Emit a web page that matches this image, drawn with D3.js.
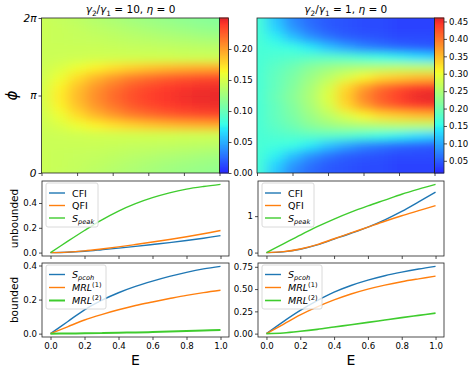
<!DOCTYPE html>
<html>
<head>
<meta charset="utf-8">
<script src="https://cdn.jsdelivr.net/npm/d3@7"></script>
<style>
  body { margin: 0; background: #fff; }
  text { font-family: "DejaVu Sans", sans-serif; fill: #000; }
</style>
</head>
<body>
<svg id="fig" width="474" height="373"></svg>
<script>
// ---- data ----
var energy = [0, 0.1, 0.2, 0.3, 0.4, 0.5, 0.6, 0.7, 0.8, 0.9, 1.0];
// phi grid, in units of pi
var phiSteps = [0, 0.125, 0.25, 0.375, 0.5, 0.625, 0.75, 0.875, 1, 1.125, 1.25, 1.375, 1.5, 1.625, 1.75, 1.875, 2];

// heat map rows, one per phi step (phi = 0 first), columns follow energy
var heatStrong = [
  [0.145, 0.143, 0.141, 0.138, 0.135, 0.132, 0.129, 0.126, 0.123, 0.121, 0.119],
  [0.145, 0.144, 0.142, 0.140, 0.137, 0.134, 0.131, 0.128, 0.126, 0.124, 0.122],
  [0.145, 0.144, 0.143, 0.142, 0.140, 0.138, 0.136, 0.134, 0.132, 0.130, 0.128],
  [0.145, 0.145, 0.145, 0.145, 0.144, 0.143, 0.142, 0.141, 0.140, 0.139, 0.138],
  [0.145, 0.146, 0.147, 0.148, 0.148, 0.148, 0.148, 0.148, 0.147, 0.147, 0.146],
  [0.146, 0.152, 0.160, 0.167, 0.174, 0.180, 0.185, 0.189, 0.192, 0.194, 0.196],
  [0.147, 0.160, 0.175, 0.190, 0.202, 0.212, 0.219, 0.225, 0.229, 0.232, 0.234],
  [0.149, 0.167, 0.186, 0.203, 0.216, 0.227, 0.234, 0.239, 0.242, 0.244, 0.245],
  [0.150, 0.170, 0.190, 0.207, 0.221, 0.232, 0.238, 0.242, 0.245, 0.247, 0.248],
  [0.149, 0.167, 0.186, 0.203, 0.216, 0.227, 0.234, 0.239, 0.242, 0.244, 0.245],
  [0.147, 0.160, 0.175, 0.190, 0.202, 0.212, 0.219, 0.225, 0.229, 0.232, 0.234],
  [0.146, 0.152, 0.160, 0.167, 0.174, 0.180, 0.185, 0.189, 0.192, 0.194, 0.196],
  [0.145, 0.146, 0.147, 0.148, 0.148, 0.148, 0.148, 0.148, 0.147, 0.147, 0.146],
  [0.145, 0.145, 0.145, 0.145, 0.144, 0.143, 0.142, 0.141, 0.140, 0.139, 0.138],
  [0.145, 0.144, 0.143, 0.142, 0.140, 0.138, 0.136, 0.134, 0.132, 0.130, 0.128],
  [0.145, 0.144, 0.142, 0.139, 0.136, 0.133, 0.130, 0.127, 0.124, 0.121, 0.119],
  [0.145, 0.142, 0.139, 0.135, 0.131, 0.127, 0.124, 0.121, 0.118, 0.116, 0.114]
];
var heatEqual = [
  [0.170, 0.120, 0.080, 0.060, 0.050, 0.045, 0.040, 0.040, 0.035, 0.035, 0.035],
  [0.170, 0.130, 0.090, 0.065, 0.050, 0.045, 0.040, 0.040, 0.035, 0.035, 0.035],
  [0.170, 0.150, 0.120, 0.090, 0.070, 0.055, 0.050, 0.045, 0.040, 0.040, 0.040],
  [0.170, 0.165, 0.160, 0.145, 0.120, 0.100, 0.080, 0.070, 0.060, 0.055, 0.050],
  [0.170, 0.175, 0.180, 0.185, 0.185, 0.180, 0.170, 0.160, 0.150, 0.140, 0.130],
  [0.170, 0.185, 0.200, 0.220, 0.235, 0.245, 0.250, 0.255, 0.260, 0.260, 0.260],
  [0.170, 0.190, 0.210, 0.235, 0.260, 0.285, 0.310, 0.330, 0.340, 0.350, 0.355],
  [0.170, 0.190, 0.215, 0.245, 0.280, 0.330, 0.370, 0.405, 0.425, 0.440, 0.445],
  [0.170, 0.195, 0.220, 0.250, 0.290, 0.340, 0.390, 0.420, 0.440, 0.455, 0.460],
  [0.170, 0.190, 0.215, 0.245, 0.280, 0.330, 0.370, 0.405, 0.425, 0.440, 0.445],
  [0.170, 0.190, 0.210, 0.235, 0.260, 0.285, 0.310, 0.330, 0.340, 0.350, 0.355],
  [0.170, 0.185, 0.200, 0.220, 0.235, 0.245, 0.250, 0.255, 0.260, 0.260, 0.260],
  [0.170, 0.175, 0.180, 0.185, 0.185, 0.180, 0.170, 0.160, 0.150, 0.140, 0.130],
  [0.170, 0.165, 0.160, 0.145, 0.120, 0.100, 0.080, 0.070, 0.060, 0.055, 0.050],
  [0.170, 0.150, 0.120, 0.090, 0.070, 0.055, 0.050, 0.045, 0.040, 0.040, 0.040],
  [0.170, 0.130, 0.090, 0.065, 0.050, 0.045, 0.040, 0.040, 0.035, 0.035, 0.035],
  [0.170, 0.120, 0.080, 0.060, 0.050, 0.045, 0.040, 0.040, 0.035, 0.035, 0.035]
];
var cbarStrong = [0, 0.25];
var cbarEqual = [0.015, 0.46];
var cbarTicksStrong = [0, 0.05, 0.10, 0.15, 0.20];
var cbarTicksEqual = [0.05, 0.10, 0.15, 0.20, 0.25, 0.30, 0.35, 0.40, 0.45];
var phiTicks = [0, 1, 2];
var phiTickLabels = ["0", "\u03c0", "2\u03c0"];

// unbounded
var cfiStrong   = [0, 0.003, 0.011, 0.023, 0.036, 0.050, 0.065, 0.080, 0.097, 0.116, 0.137];
var qfiStrong   = [0, 0.004, 0.014, 0.029, 0.046, 0.065, 0.085, 0.106, 0.128, 0.152, 0.178];
var speakStrong = [0, 0.090, 0.178, 0.262, 0.335, 0.395, 0.443, 0.482, 0.512, 0.533, 0.550];
var cfiEqual    = [0, 0.020, 0.090, 0.210, 0.370, 0.530, 0.700, 0.900, 1.130, 1.390, 1.660];
var qfiEqual    = [0, 0.025, 0.100, 0.220, 0.380, 0.540, 0.700, 0.860, 1.010, 1.150, 1.290];
var speakEqual  = [0, 0.240, 0.480, 0.710, 0.920, 1.110, 1.280, 1.440, 1.600, 1.740, 1.870];
// bounded
var spcohStrong = [0, 0.070, 0.140, 0.195, 0.240, 0.277, 0.308, 0.336, 0.360, 0.380, 0.395];
var mrl1Strong  = [0, 0.040, 0.080, 0.112, 0.140, 0.165, 0.186, 0.206, 0.225, 0.241, 0.255];
var mrl2Strong  = [0, 0.001, 0.002, 0.003, 0.005, 0.007, 0.009, 0.012, 0.015, 0.018, 0.021];
var spcohEqual  = [0, 0.135, 0.260, 0.370, 0.465, 0.540, 0.600, 0.650, 0.690, 0.725, 0.755];
var mrl1Equal   = [0, 0.105, 0.210, 0.300, 0.378, 0.445, 0.500, 0.545, 0.583, 0.615, 0.645];
var mrl2Equal   = [0, 0.008, 0.026, 0.048, 0.074, 0.100, 0.126, 0.153, 0.180, 0.205, 0.230];

var xTicks = [0, 0.2, 0.4, 0.6, 0.8, 1.0];

var BLUE = "#1f77b4", ORANGE = "#ff7f0e", GREEN = "#3fcc2e";
var TICK_FS = 8.6;

var svg = d3.select("#fig");
var defs = svg.append("defs");

// jet colormap, trimmed at the ends and washed with white
var jetR = d3.scaleLinear().domain([0, 0.35, 0.66, 0.89, 1]).range([0, 0, 1, 1, 0.5]).clamp(true);
var jetG = d3.scaleLinear().domain([0, 0.125, 0.375, 0.64, 0.91, 1]).range([0, 0, 1, 1, 0, 0]).clamp(true);
var jetB = d3.scaleLinear().domain([0, 0.11, 0.34, 0.65, 1]).range([0.5, 1, 1, 0, 0]).clamp(true);
function makeColor(range) {
  var t = d3.scaleLinear().domain(range).range([0.12, 0.92]).clamp(true);
  var a = 0.84;
  return function (v) {
    var s = t(v);
    return d3.rgb(255 * (1 - a + a * jetR(s)), 255 * (1 - a + a * jetG(s)), 255 * (1 - a + a * jetB(s))).toString();
  };
}

function rich(sel, parts, fs) {
  var shift = 0;
  parts.forEach(function (p) {
    var s = p.sub ? fs * 0.25 : (p.sup ? -fs * 0.4 : 0);
    var ts = sel.append("tspan").attr("dy", s - shift).text(p.t);
    shift = s;
    if (p.sub || p.sup) ts.attr("font-size", fs * 0.7);
    if (p.it) ts.attr("font-style", "italic");
  });
}

function heatPanel(id, box, cb, grid, range, cbTicks, showPhi, title) {
  var x = d3.scaleLinear().domain([0, 1]).range([box.x0, box.x1]);
  var y = d3.scaleLinear().domain([0, 2]).range([box.y1, box.y0]);
  var color = makeColor(range);

  defs.append("clipPath").attr("id", "clip" + id)
    .append("rect").attr("x", box.x0).attr("y", box.y0)
    .attr("width", box.x1 - box.x0).attr("height", box.y1 - box.y0);
  var f = defs.append("filter").attr("id", "blur" + id)
    .attr("filterUnits", "userSpaceOnUse")
    .attr("x", box.x0 - 40).attr("y", box.y0 - 40)
    .attr("width", box.x1 - box.x0 + 80).attr("height", box.y1 - box.y0 + 80);
  f.append("feGaussianBlur").attr("stdDeviation", "6.5 4.5");
  f.append("feComponentTransfer").append("feFuncA").attr("type", "linear").attr("slope", 0).attr("intercept", 1);

  var cells = [];
  grid.forEach(function (row, i) {
    row.forEach(function (v, j) {
      cells.push({ e: energy[j], p: phiSteps[i], v: v, i: i, j: j });
    });
  });
  var dE = 0.05, dP = 0.0625;
  svg.append("g").attr("clip-path", "url(#clip" + id + ")")
    .append("g").attr("filter", "url(#blur" + id + ")")
    .selectAll("rect").data(cells).join("rect")
    .attr("x", function (d) { return x(d.e - dE) - (d.j === 0 ? 30 : 0); })
    .attr("width", function (d) { return x(dE * 2) - x(0) + 1 + (d.j === 0 || d.j === energy.length - 1 ? 30 : 0); })
    .attr("y", function (d) { return y(d.p + dP) - (d.i === phiSteps.length - 1 ? 30 : 0); })
    .attr("height", function (d) { return y(0) - y(dP * 2) + 1 + (d.i === 0 || d.i === phiSteps.length - 1 ? 30 : 0); })
    .attr("fill", function (d) { return color(d.v); });

  // colour bar
  var cy = d3.scaleLinear().domain(range).range([box.y1, box.y0]);
  var steps = d3.range(range[0], range[1], (range[1] - range[0]) / 120);
  svg.append("g").selectAll("rect").data(steps).join("rect")
    .attr("x", cb.x0).attr("width", cb.x1 - cb.x0)
    .attr("y", function (d) { return cy(d + (range[1] - range[0]) / 120) - 0.5; })
    .attr("height", (box.y1 - box.y0) / 120 + 1)
    .attr("fill", function (d) { return color(d + (range[1] - range[0]) / 240); });
  var cax = svg.append("g").attr("transform", "translate(" + cb.x1 + ",0)")
    .call(d3.axisRight(cy).tickValues(cbTicks).tickSize(3).tickPadding(2).tickFormat(d3.format(".2f")));
  cax.select(".domain").remove();
  cax.selectAll("text").attr("font-size", TICK_FS).attr("font-family", "DejaVu Sans");
  cax.selectAll("line").attr("stroke", "#222").attr("stroke-width", 0.8);
  svg.append("rect").attr("x", cb.x0).attr("y", box.y0).attr("width", cb.x1 - cb.x0).attr("height", box.y1 - box.y0)
    .attr("fill", "none").attr("stroke", "#222").attr("stroke-width", 0.8);

  // axes
  var xax = svg.append("g").attr("transform", "translate(0," + box.y1 + ")")
    .call(d3.axisBottom(x).tickValues(xTicks).tickSize(3).tickFormat(""));
  xax.select(".domain").remove();
  xax.selectAll("line").attr("stroke", "#222").attr("stroke-width", 0.8);
  if (showPhi) {
    var yax = svg.append("g").attr("transform", "translate(" + box.x0 + ",0)")
      .call(d3.axisLeft(y).tickValues(phiTicks).tickSize(3).tickPadding(2)
        .tickFormat(function (d, i) { return phiTickLabels[i]; }));
    yax.select(".domain").remove();
    yax.selectAll("line").attr("stroke", "#222").attr("stroke-width", 0.8);
    yax.selectAll("text").attr("font-size", 10.5).attr("font-family", "DejaVu Sans").attr("font-style", "italic");
    svg.append("text").attr("transform", "translate(17," + (box.y0 + box.y1) / 2 + ") rotate(-90)")
      .attr("text-anchor", "middle").attr("font-size", 15).attr("font-style", "italic").text("\u03d5");
  }
  svg.append("rect").attr("x", box.x0).attr("y", box.y0).attr("width", box.x1 - box.x0).attr("height", box.y1 - box.y0)
    .attr("fill", "none").attr("stroke", "#222").attr("stroke-width", 0.8);

  var t = svg.append("text").attr("x", (box.x0 + box.x1) / 2).attr("y", 13)
    .attr("text-anchor", "middle").attr("font-size", 10.5);
  rich(t, title, 10.5);
}

function linePanel(box, series, yTicks, yFmt, showX, legendBox, ylabel, showE) {
  var x = d3.scaleLinear().domain([-0.05, 1.05]).range([box.x0, box.x1]);
  var ymax = d3.max(series, function (s) { return d3.max(s.values); });
  var y = d3.scaleLinear().domain([-0.05 * ymax, 1.05 * ymax]).range([box.y1, box.y0]);
  var line = d3.line().curve(d3.curveCatmullRom.alpha(0.5))
    .x(function (d, i) { return x(energy[i]); })
    .y(function (d) { return y(d); });

  svg.append("rect").attr("x", box.x0).attr("y", box.y0).attr("width", box.x1 - box.x0).attr("height", box.y1 - box.y0)
    .attr("fill", "#fff");
  svg.append("g").selectAll("path").data(series).join("path")
    .attr("d", function (s) { return line(s.values); })
    .attr("fill", "none")
    .attr("stroke", function (s) { return s.color; })
    .attr("stroke-width", function (s) { return s.width; });

  var xax = svg.append("g").attr("transform", "translate(0," + box.y1 + ")")
    .call(d3.axisBottom(x).tickValues(xTicks).tickSize(3).tickPadding(3)
      .tickFormat(showX ? d3.format(".1f") : ""));
  xax.select(".domain").remove();
  xax.selectAll("line").attr("stroke", "#222").attr("stroke-width", 0.8);
  xax.selectAll("text").attr("font-size", TICK_FS).attr("font-family", "DejaVu Sans");

  var yax = svg.append("g").attr("transform", "translate(" + box.x0 + ",0)")
    .call(d3.axisLeft(y).tickValues(yTicks).tickSize(3).tickPadding(2).tickFormat(d3.format(yFmt)));
  yax.select(".domain").remove();
  yax.selectAll("line").attr("stroke", "#222").attr("stroke-width", 0.8);
  yax.selectAll("text").attr("font-size", TICK_FS).attr("font-family", "DejaVu Sans");

  svg.append("rect").attr("x", box.x0).attr("y", box.y0).attr("width", box.x1 - box.x0).attr("height", box.y1 - box.y0)
    .attr("fill", "none").attr("stroke", "#222").attr("stroke-width", 0.8);

  // legend
  var lg = svg.append("g");
  lg.append("rect").attr("x", legendBox.x).attr("y", legendBox.y).attr("width", legendBox.w).attr("height", legendBox.h)
    .attr("rx", 2).attr("fill", "rgba(255,255,255,0.8)").attr("stroke", "#d0d0d0").attr("stroke-width", 0.8);
  series.forEach(function (s, i) {
    var ly = legendBox.y + legendBox.top + i * legendBox.step;
    lg.append("line").attr("x1", legendBox.x + 3).attr("x2", legendBox.x + 19).attr("y1", ly).attr("y2", ly)
      .attr("stroke", s.color).attr("stroke-width", s.width);
    var t = lg.append("text").attr("x", legendBox.x + 26).attr("y", ly + 3.5).attr("font-size", 9.5);
    rich(t, s.label, 9.5);
  });

  if (ylabel) {
    svg.append("text").attr("transform", "translate(18," + (box.y0 + box.y1) / 2 + ") rotate(-90)")
      .attr("text-anchor", "middle").attr("font-size", 10.5).text(ylabel);
  }
  if (showE) {
    svg.append("text").attr("x", (box.x0 + box.x1) / 2).attr("y", 365)
      .attr("text-anchor", "middle").attr("font-size", 14).text("E");
  }
}

var titleStrong = [{ t: "\u03b3", it: true }, { t: "2", sub: true }, { t: "/" }, { t: "\u03b3", it: true }, { t: "1", sub: true },
  { t: " = 10, " }, { t: "\u03b7", it: true }, { t: " = 0" }];
var titleEqual = [{ t: "\u03b3", it: true }, { t: "2", sub: true }, { t: "/" }, { t: "\u03b3", it: true }, { t: "1", sub: true },
  { t: " = 1, " }, { t: "\u03b7", it: true }, { t: " = 0" }];

heatPanel("L", { x0: 41.5, x1: 219.5, y0: 18, y1: 173 }, { x0: 219.5, x1: 228.5 },
  heatStrong, cbarStrong, cbarTicksStrong, true, titleStrong);
heatPanel("R", { x0: 257, x1: 434.5, y0: 18, y1: 173 }, { x0: 434.5, x1: 444 },
  heatEqual, cbarEqual, cbarTicksEqual, false, titleEqual);

var lbCFI = [{ t: "CFI" }], lbQFI = [{ t: "QFI" }];
var lbPeak = [{ t: "S", it: true }, { t: "peak", it: true, sub: true }];
var lbPcoh = [{ t: "S", it: true }, { t: "pcoh", it: true, sub: true }];
var lbMrl1 = [{ t: "MRL", it: true }, { t: "(1)", sup: true }];
var lbMrl2 = [{ t: "MRL", it: true }, { t: "(2)", sup: true }];

linePanel({ x0: 42, x1: 229, y0: 181, y1: 256 }, [
  { values: cfiStrong, color: BLUE, width: 1.4, label: lbCFI },
  { values: qfiStrong, color: ORANGE, width: 1.4, label: lbQFI },
  { values: speakStrong, color: GREEN, width: 1.4, label: lbPeak }
], [0, 0.2, 0.4], ".1f", false, { x: 46, y: 183, w: 52, h: 44, top: 10, step: 12.5 }, "unbounded", false);

linePanel({ x0: 258, x1: 444, y0: 181, y1: 256 }, [
  { values: cfiEqual, color: BLUE, width: 1.4, label: lbCFI },
  { values: qfiEqual, color: ORANGE, width: 1.4, label: lbQFI },
  { values: speakEqual, color: GREEN, width: 1.4, label: lbPeak }
], [0, 1], ".0f", false, { x: 262, y: 183, w: 52, h: 44, top: 10, step: 12.5 }, null, false);

linePanel({ x0: 42, x1: 229, y0: 263, y1: 337 }, [
  { values: spcohStrong, color: BLUE, width: 1.4, label: lbPcoh },
  { values: mrl1Strong, color: ORANGE, width: 1.4, label: lbMrl1 },
  { values: mrl2Strong, color: GREEN, width: 2, label: lbMrl2 }
], [0, 0.2, 0.4], ".1f", true, { x: 46, y: 265, w: 60, h: 44, top: 9.5, step: 13 }, "bounded", true);

linePanel({ x0: 258, x1: 444, y0: 263, y1: 337 }, [
  { values: spcohEqual, color: BLUE, width: 1.4, label: lbPcoh },
  { values: mrl1Equal, color: ORANGE, width: 1.4, label: lbMrl1 },
  { values: mrl2Equal, color: GREEN, width: 1.6, label: lbMrl2 }
], [0, 0.25, 0.5, 0.75], ".2f", true, { x: 262, y: 265, w: 60, h: 44, top: 9.5, step: 13 }, null, true);
</script>
</body>
</html>
